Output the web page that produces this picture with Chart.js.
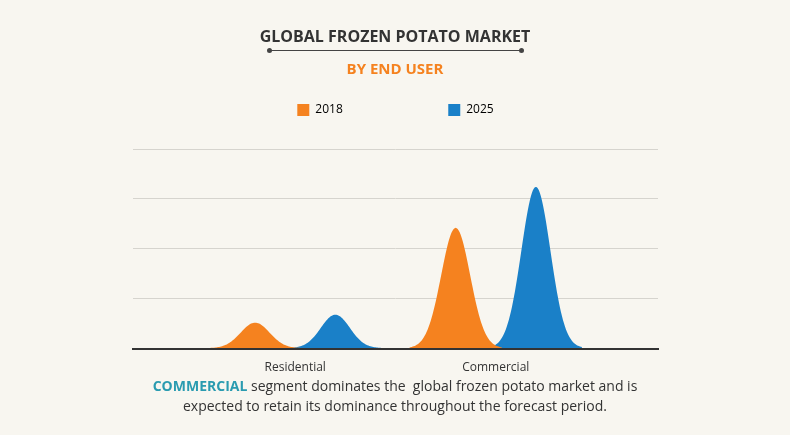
<!DOCTYPE html>
<html><head><meta charset="utf-8">
<script src="https://cdn.jsdelivr.net/npm/chart.js@4"></script>
<style>
body{margin:0;background:#f8f6f0;font-family:"Open Sans",sans-serif;}
#wrap{position:relative;width:790px;height:435px;}
canvas{position:absolute;left:0;top:0;}
.t{position:absolute;left:0;width:790px;text-align:center;}
</style></head><body>
<div id="wrap">
<canvas id="c" width="790" height="435"></canvas>
<div class="t" style="top:25px;font-size:16px;font-weight:700;color:#333;">GLOBAL FROZEN POTATO MARKET</div>
<div style="position:absolute;left:270px;top:50px;width:252px;height:1px;background:#444;"></div>
<div style="position:absolute;left:267px;top:48px;width:5px;height:5px;border-radius:3px;background:#444;"></div>
<div style="position:absolute;left:519px;top:48px;width:5px;height:5px;border-radius:3px;background:#444;"></div>
<div class="t" style="top:58px;font-size:15px;font-weight:700;color:#f5821f;">BY END USER</div>
<div class="t" style="top:376px;font-size:14px;color:#333;line-height:20px;"><span style="color:#2a9bb0;font-weight:700;">COMMERCIAL</span> segment dominates the&nbsp; global frozen potato market and is<br>expected to retain its dominance throughout the forecast period.</div>
</div>
<script>
const categories=['Residential','Commercial'];
const categoryX=[3.09,6.91];
const series2018=[0.52,2.42];
const series2025=[0.68,3.24];
const seriesNames=['2018','2025'];
const colors=['#f5821f','#1a80c8'];

const bell={id:'bell',
 beforeDatasetDraw(chart,args){
  const ctx=chart.ctx, meta=args.meta, col=colors[args.index];
  ctx.save();ctx.fillStyle=col;
  meta.data.forEach(el=>{
   const cx=el.x, top=el.y, base=el.base, h=base-top, hw=46, s=14.5;
   ctx.beginPath();ctx.moveTo(cx-hw,base);
   for(let dx=-hw;dx<=hw;dx+=1){ctx.lineTo(cx+dx,base-h*Math.exp(-dx*dx/(2*s*s)));}
   ctx.lineTo(cx+hw,base);ctx.closePath();ctx.fill();
  });
  ctx.restore();return false;}
};
const legendGap={id:'legendGap',beforeInit(chart){
  const orig=chart.legend&&chart.legend.fit;
}};
new Chart(document.getElementById('c'),{
 type:'bar',
 data:{datasets:[
  {label:seriesNames[0],data:categoryX.map((x,i)=>({x,y:series2018[i]})),backgroundColor:colors[0]},
  {label:seriesNames[1],data:categoryX.map((x,i)=>({x,y:series2025[i]})),backgroundColor:colors[1]}]},
 options:{responsive:false,animation:false,
  layout:{padding:{left:133,right:132,top:92,bottom:56}},
  plugins:{tooltip:{enabled:false},legend:{labels:{boxWidth:12,boxHeight:12,padding:12,color:'#333',font:{family:'Open Sans',size:12},
    generateLabels(ch){return seriesNames.map((n,i)=>({text:i===0?n+'                              ':n,fillStyle:colors[i],strokeStyle:colors[i],lineWidth:0,datasetIndex:i}));}}}},
  scales:{
   x:{type:'linear',min:0,max:10,offset:false,bounds:'data',
     afterBuildTicks(s){s.ticks=categoryX.map(v=>({value:v}));},
     ticks:{callback:(v,i)=>categories[i],color:'#333',font:{family:'Open Sans',size:12},padding:4},
     grid:{display:false},border:{color:'#333',width:2}},
   y:{min:0,max:4,ticks:{display:false,stepSize:1},
     grid:{color:c=>c.tick.value===0?'rgba(0,0,0,0)':'#d6d4ce',drawTicks:false},border:{display:false}}
  }},
 plugins:[bell,{id:'lg',beforeLayout(chart){const l=chart.legend;if(l&&!l._patched){const f=l.fit.bind(l);l.fit=function(){f();this.height+=23;};l._patched=true;}}}]});
</script></body></html>
